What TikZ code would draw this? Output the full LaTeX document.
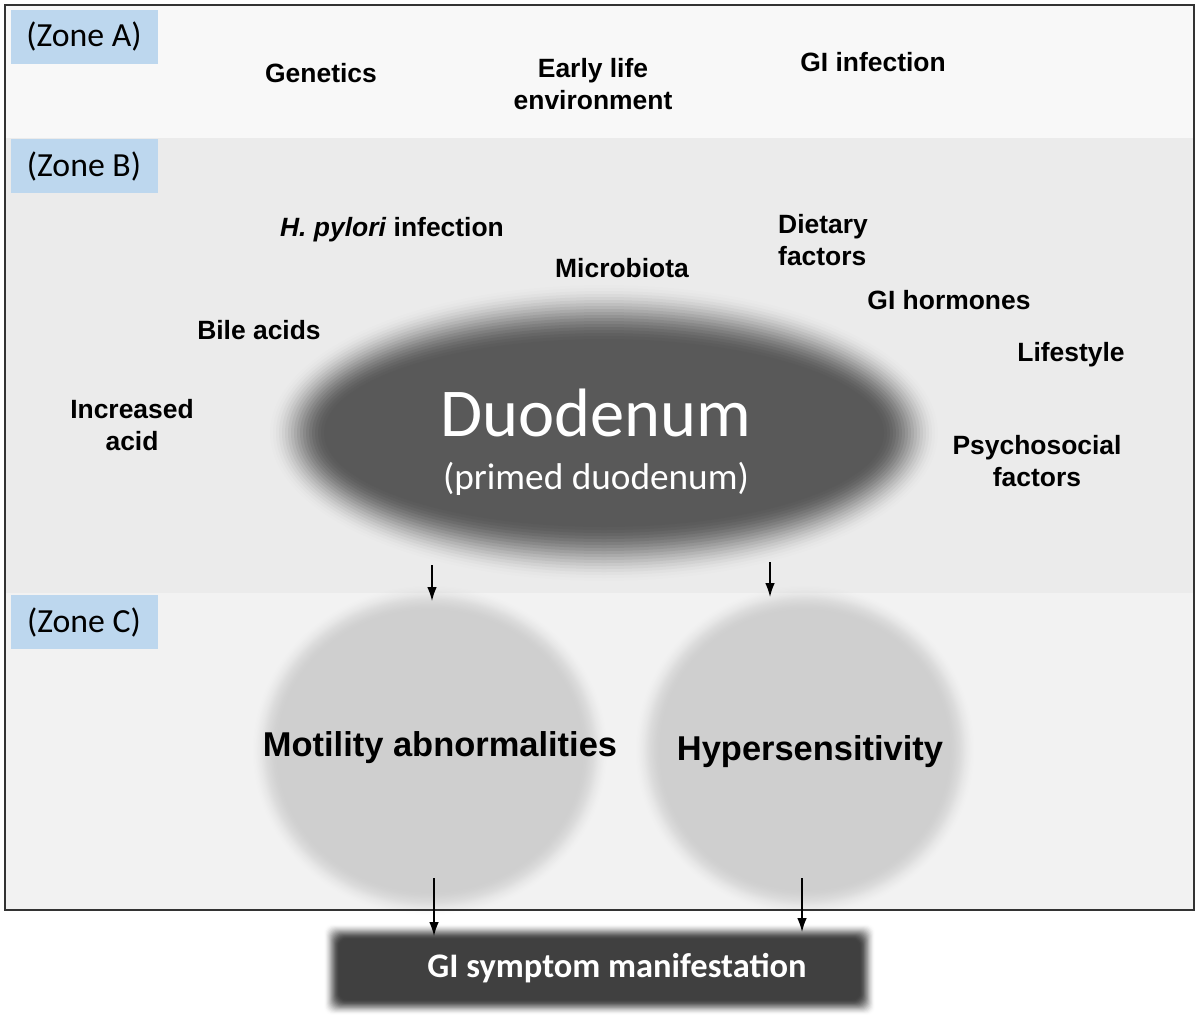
\documentclass[tikz,border=0pt]{standalone}
\usepackage{fontspec}
\setmainfont{Liberation Sans}
\newfontfamily\calfont{Carlito}
\usetikzlibrary{arrows.meta}
\definecolor{zoneAcol}{HTML}{F8F8F8}
\definecolor{zoneBcol}{HTML}{EBEBEB}
\definecolor{zoneCcol}{HTML}{F2F2F2}
\definecolor{tagcol}{HTML}{BDD7EE}
\definecolor{duocol}{HTML}{595959}
\definecolor{circcol}{HTML}{CFCFCF}
\definecolor{gicol}{HTML}{404040}
\tikzset{
  factor/.style={font=\bfseries\fontsize{18.8}{22.7}\selectfont, align=center, inner sep=0pt},
  zonetag/.style={fill=tagcol, font=\calfont\fontsize{24}{28}\selectfont, minimum width=147*0.025cm, minimum height=54*0.025cm, inner sep=0pt},
  effect/.style={font=\bfseries\fontsize{24.5}{28}\selectfont, inner sep=0pt},
  arr/.style={-{Latex[length=0.35cm,width=0.24cm]}, line width=1pt}
}
\begin{document}
\begin{tikzpicture}[x=0.025cm, y=-0.025cm]
  \useasboundingbox (0,0) rectangle (1200,1024);
  % zones
  \fill[zoneAcol] (5,5) rectangle (1194,138);
  \fill[zoneBcol] (5,138) rectangle (1194,593);
  \fill[zoneCcol] (5,593) rectangle (1194,910);
  \node[zonetag] (zoneA) at (84,37) {(Zone A)};
  \node[zonetag] (zoneB) at (84,166) {(Zone B)};
  \node[zonetag] (zoneC) at (84,622) {(Zone C)};

  % fuzzy duodenum, effect circles and symptom box (smoothstep fade)
  \foreach \k [evaluate=\k as \op using
      ((3*((\k+1)/20)^2-2*((\k+1)/20)^3)-(3*(\k/20)^2-2*(\k/20)^3))/(1-(3*(\k/20)^2-2*(\k/20)^3))]
      in {0,...,19} {
    \fill[duocol, opacity=\op] (604,433) ellipse [x radius=334-\k*3, y radius=148-\k*3];
    \fill[circcol, opacity=\op] (430,751) ellipse [x radius=177-\k*1.4, y radius=165-\k*1.4];
    \fill[circcol, opacity=\op] (805,750) ellipse [x radius=169-\k*1.4, y radius=164-\k*1.4];
    \fill[gicol, opacity=\op, rounded corners=6] (324+\k*0.8,924+\k*0.8) rectangle (875-\k*0.8,1015-\k*0.8);
  }
  \draw[line width=1.1pt, black!80] (5,5) rectangle (1194,910);

  % zone A
  \node[factor] (genet) at (321,73) {Genetics};
  \node[factor] (early) at (593,84) {Early life\\environment};
  \node[factor] (giinf) at (873,62) {GI infection};
  % zone B
  \node[factor] (hpyl) at (392,230) {\textit{H. pylori} infection};
  \node[factor] (micro) at (622,268) {Microbiota};
  \node[factor, align=left] (diet) at (823,240) {Dietary\\factors};
  \node[factor] (hormo) at (949,300) {GI hormones};
  \node[factor] (bile) at (259,330) {Bile acids};
  \node[factor] (life) at (1071,355) {Lifestyle};
  \node[factor] (acid) at (132,425) {Increased\\acid};
  \node[factor] (psycho) at (1037,461) {Psychosocial\\factors};
  \node[text=white, font=\calfont\fontsize{48.7}{50}\selectfont, inner sep=0pt] (duo) at (596,413) {Duodenum};
  \node[text=white, font=\calfont\fontsize{26.5}{30}\selectfont, inner sep=0pt] (primed) at (596,479) {(primed duodenum)};
  % zone C
  \node[effect] (mot) at (440,748) {Motility abnormalities};
  \node[effect] (hyp) at (810,752) {Hypersensitivity};
  \node[text=white, font=\calfont\bfseries\fontsize{24.5}{28}\selectfont, inner sep=0pt] (gi) at (617,968) {GI symptom manifestation};

  % arrows
  \coordinate (m1) at (432,565);
  \coordinate (m2) at (432,601);
  \coordinate (h1) at (770,562);
  \coordinate (h2) at (770,597);
  \coordinate (g1) at (434,878);
  \coordinate (g2) at (434,936);
  \coordinate (g3) at (802,878);
  \coordinate (g4) at (802,932);
  \draw[arr] (m1) -- (m2);
  \draw[arr] (h1) -- (h2);
  \draw[arr] (g1) -- (g2);
  \draw[arr] (g3) -- (g4);
\end{tikzpicture}
\end{document}
